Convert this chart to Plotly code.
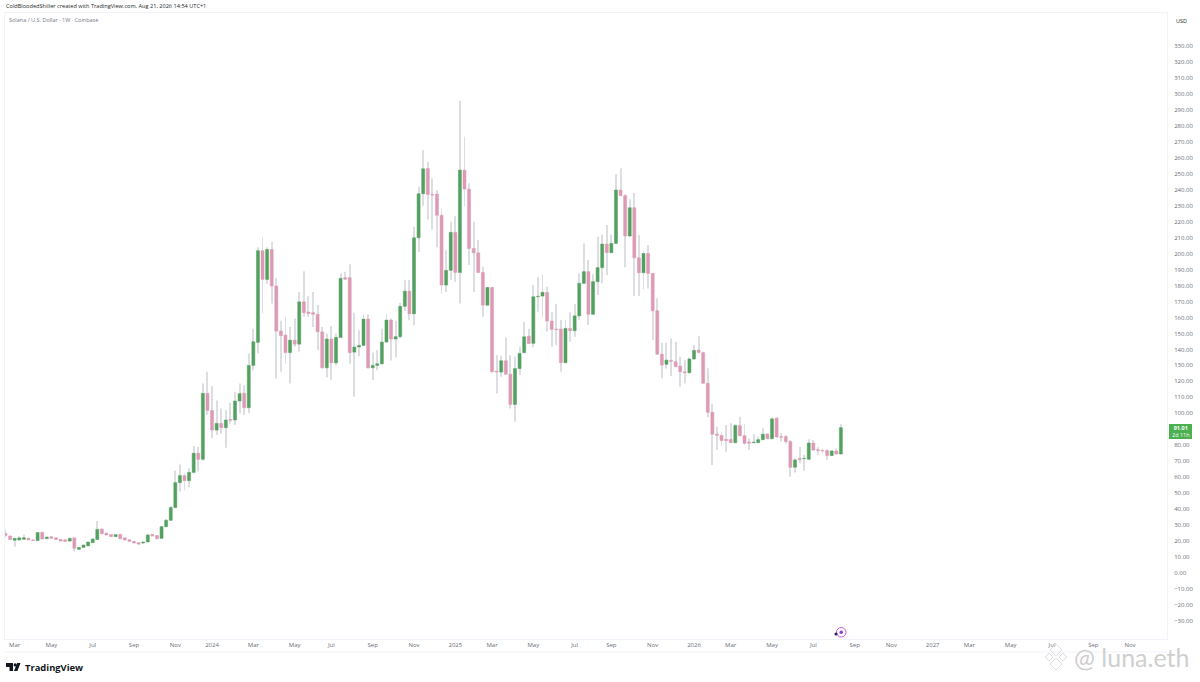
"""Solana weekly candles in the TradingView snapshot look."""
import plotly.graph_objects as go
import pandas as pd

first_week = "2023-02-13"
week_ms = 7 * 86400000

opens = [
    24.8, 23.2, 20.5, 20.7, 21.1, 21.7, 20.7, 20.3, 25.5, 21.5,
    22.7, 22.0, 21.0, 20.8, 20.0, 22.0, 14.8, 16.0, 17.0, 19.0,
    21.0, 27.5, 25.0, 24.0, 22.8, 24.2, 22.0, 20.8, 19.8, 19.0,
    18.8, 19.4, 24.2, 23.5, 21.7, 29.0, 33.0, 41.0, 56.6, 61.0,
    57.8, 63.0, 75.0, 71.2, 112.5, 101.8, 89.5, 93.7, 91.0, 96.2,
    95.8, 107.7, 112.5, 103.5, 130.0, 144.4, 201.8, 183.8, 202.6, 179.7,
    151.5, 149.0, 138.0, 145.8, 143.3, 169.8, 163.4, 163.0, 162.0, 151.0,
    128.5, 146.5, 131.6, 147.5, 184.9, 184.9, 138.3, 141.5, 142.5, 159.0,
    128.5, 130.0, 131.0, 144.6, 158.4, 146.5, 148.0, 167.0, 176.5, 162.3,
    209.9, 237.5, 253.3, 237.0, 237.3, 224.0, 180.3, 189.5, 213.3, 188.2,
    252.3, 240.4, 203.2, 200.5, 188.2, 167.7, 178.8, 126.4, 125.8, 132.9,
    124.5, 105.5, 128.0, 138.0, 148.3, 143.8, 173.0, 173.4, 175.7, 157.8,
    152.8, 152.8, 131.7, 153.2, 151.7, 161.0, 181.4, 188.7, 162.0, 182.4,
    191.2, 206.0, 200.6, 206.4, 239.8, 236.3, 211.0, 228.7, 197.4, 188.0,
    200.1, 187.6, 164.2, 137.0, 130.7, 133.1, 132.3, 129.6, 126.0, 125.4,
    134.0, 139.6, 138.0, 118.8, 100.6, 87.0, 86.2, 83.7, 83.7, 81.6,
    92.3, 86.0, 82.0, 81.6, 81.6, 83.5, 87.0, 84.1, 96.9, 85.4,
    85.4, 82.3, 66.2, 71.8, 71.6, 71.2, 81.4, 77.2, 76.8, 76.6,
    73.5, 76.4, 74.5,
]
closes = [
    23.4, 20.9, 21.7, 22.0, 22.1, 20.7, 20.3, 25.3, 21.3, 22.5,
    21.7, 21.0, 20.0, 19.8, 21.7, 15.5, 16.0, 17.5, 19.4, 21.3,
    27.3, 24.6, 23.8, 22.8, 24.0, 21.5, 20.7, 19.8, 18.8, 18.2,
    19.4, 23.8, 23.2, 21.5, 29.0, 33.0, 41.0, 56.6, 61.0, 57.8,
    63.0, 75.0, 71.2, 112.5, 101.8, 89.5, 93.7, 91.0, 95.8, 95.6,
    107.7, 112.3, 103.5, 130.0, 144.8, 201.8, 183.8, 202.6, 179.7, 151.5,
    148.6, 138.0, 145.8, 143.3, 169.8, 163.0, 162.5, 162.0, 151.0, 128.5,
    146.5, 131.6, 147.5, 184.5, 184.0, 138.0, 141.5, 142.5, 159.0, 128.5,
    130.0, 131.0, 144.6, 158.4, 146.5, 148.0, 167.0, 176.5, 162.3, 209.9,
    237.5, 253.1, 237.0, 236.6, 224.0, 180.3, 189.5, 213.3, 188.2, 252.3,
    240.4, 203.2, 200.5, 188.2, 167.7, 178.8, 126.0, 125.8, 132.9, 124.5,
    105.5, 128.0, 137.5, 147.9, 143.7, 173.0, 173.3, 175.8, 157.8, 152.5,
    152.4, 131.7, 153.2, 151.7, 161.0, 181.4, 188.7, 162.0, 182.4, 191.2,
    206.0, 200.6, 206.4, 239.8, 236.3, 211.0, 228.7, 197.4, 188.0, 200.1,
    187.6, 164.2, 137.0, 130.2, 133.3, 132.5, 129.2, 126.0, 125.4, 134.0,
    139.4, 138.0, 118.8, 100.6, 86.9, 86.2, 82.9, 82.9, 81.6, 92.3,
    86.0, 81.2, 81.2, 82.0, 83.5, 86.9, 84.1, 96.5, 85.2, 85.0,
    82.3, 66.2, 70.8, 71.0, 71.8, 81.4, 77.0, 76.6, 76.4, 73.5,
    76.4, 74.5, 91.01,
]
highs = [
    27.3, 23.4, 21.8, 23.0, 24.0, 22.0, 21.0, 25.6, 25.8, 22.7,
    23.0, 22.2, 21.2, 21.0, 22.0, 22.3, 16.3, 17.8, 19.8, 21.8,
    32.6, 27.8, 25.3, 24.3, 24.3, 24.5, 22.2, 21.0, 20.0, 19.2,
    19.6, 24.5, 24.6, 23.8, 29.5, 33.8, 42.0, 64.0, 68.0, 62.4,
    65.6, 79.5, 79.0, 118.7, 126.0, 117.0, 108.0, 103.0, 102.0, 106.6,
    113.5, 118.7, 117.6, 137.5, 153.0, 204.0, 210.0, 204.0, 207.4, 184.5,
    158.0, 160.5, 154.0, 159.4, 176.0, 189.0, 173.4, 176.0, 167.8, 154.0,
    150.0, 154.6, 150.0, 187.6, 188.6, 193.4, 163.0, 152.0, 162.0, 162.0,
    138.0, 139.6, 153.0, 162.0, 159.4, 158.0, 169.0, 183.4, 183.4, 216.8,
    241.9, 264.8, 257.5, 247.0, 239.8, 228.3, 202.2, 220.0, 223.5, 295.7,
    273.2, 244.0, 220.0, 208.5, 191.8, 179.2, 179.2, 136.4, 136.0, 147.5,
    136.4, 135.4, 141.7, 157.3, 153.0, 180.3, 185.5, 187.2, 179.3, 163.6,
    168.4, 158.4, 158.4, 163.2, 168.4, 187.6, 206.4, 196.0, 187.0, 210.6,
    212.0, 217.9, 212.0, 249.8, 253.4, 237.0, 234.0, 238.0, 211.6, 202.0,
    205.4, 188.0, 172.0, 144.2, 144.2, 146.9, 144.8, 135.4, 133.3, 135.0,
    142.7, 148.4, 138.6, 128.2, 105.9, 91.7, 88.5, 92.7, 93.7, 93.3,
    97.9, 93.1, 84.3, 87.0, 85.4, 90.6, 87.5, 97.5, 97.5, 87.5,
    86.4, 83.3, 71.8, 79.0, 74.0, 83.7, 83.3, 78.7, 78.0, 77.5,
    77.0, 78.0, 93.1,
]
lows = [
    22.3, 20.7, 16.5, 20.2, 20.7, 20.5, 20.2, 20.1, 21.0, 21.2,
    21.5, 20.8, 19.8, 19.6, 19.8, 13.4, 14.5, 15.8, 16.8, 18.8,
    20.8, 24.3, 23.5, 22.5, 22.5, 21.2, 20.4, 19.6, 18.6, 18.0,
    18.6, 19.2, 23.0, 21.2, 21.4, 28.7, 32.5, 40.5, 51.0, 51.6,
    53.7, 62.4, 63.5, 70.5, 99.0, 84.3, 86.4, 87.4, 78.4, 93.5,
    92.6, 100.0, 98.9, 100.0, 127.0, 137.5, 162.5, 181.0, 168.8, 121.8,
    126.0, 131.0, 118.7, 141.7, 138.5, 160.5, 160.5, 154.0, 139.6, 128.0,
    122.5, 121.0, 130.0, 147.0, 183.5, 131.0, 110.4, 135.8, 142.0, 128.0,
    120.8, 127.0, 130.5, 144.0, 133.0, 135.0, 147.0, 164.0, 158.3, 155.2,
    201.0, 230.0, 221.4, 215.0, 203.9, 175.0, 176.0, 183.4, 182.4, 168.8,
    229.3, 192.8, 176.0, 187.8, 160.4, 167.2, 125.6, 112.4, 122.9, 124.0,
    103.0, 94.7, 124.0, 137.5, 143.4, 141.3, 163.6, 160.5, 151.0, 141.7,
    142.7, 126.0, 131.2, 144.8, 148.0, 158.4, 181.0, 155.3, 161.6, 174.0,
    181.4, 186.6, 200.2, 206.0, 236.0, 191.4, 210.6, 173.4, 173.4, 177.6,
    178.2, 145.9, 136.6, 121.9, 128.0, 123.3, 128.8, 116.6, 118.7, 125.0,
    133.6, 137.6, 118.4, 97.5, 67.6, 77.0, 79.6, 76.0, 81.2, 81.2,
    85.6, 80.2, 77.0, 81.2, 81.2, 83.2, 83.8, 83.8, 84.8, 82.3,
    81.0, 60.3, 62.9, 68.7, 64.0, 70.9, 76.6, 73.9, 74.5, 70.8,
    73.2, 74.2, 74.2,
]

tick_dates = ["2023-02-27", "2023-04-24", "2023-06-26", "2023-08-28", "2023-10-30", "2023-12-25",
              "2024-02-26", "2024-04-29", "2024-06-24", "2024-08-26", "2024-10-28", "2024-12-30",
              "2025-02-24", "2025-04-28", "2025-06-30", "2025-08-25", "2025-10-27", "2025-12-29",
              "2026-02-23", "2026-04-27", "2026-06-29", "2026-08-31", "2026-10-26", "2026-12-28",
              "2027-02-22", "2027-04-26", "2027-06-28", "2027-08-30", "2027-10-25"]
tick_names = ["Mar", "May", "Jul", "Sep", "Nov", "2024",
              "Mar", "May", "Jul", "Sep", "Nov", "2025",
              "Mar", "May", "Jul", "Sep", "Nov", "2026",
              "Mar", "May", "Jul", "Sep", "Nov", "2027",
              "Mar", "May", "Jul", "Sep", "Nov"]
price_ticks = list(range(-30, 340, 10))

GREEN, PINK, WICK = "#53a061", "#dd9ab5", "#dddee2"
PALE = "#f0f3fa"
L, R, T, B = 5, 1167, 13, 639

dates = pd.date_range(first_week, periods=len(closes), freq="7D")
body_base = [min(o, c) for o, c in zip(opens, closes)]
body_size = [abs(c - o) for o, c in zip(opens, closes)]
body_col = [GREEN if c >= o else PINK for o, c in zip(opens, closes)]


def px(x):
    return (x - L) / (R - L)


def py(y):
    return (B - y) / (B - T)


def path(points):
    """Closed SVG path in paper coordinates from pixel points."""
    return "M" + " L".join(f"{px(a):.5f},{py(b):.5f}" for a, b in points) + " Z"


def label(x, y, text, size, color, anchor="left", **kw):
    fig.add_annotation(xref="paper", yref="paper", x=px(x), y=py(y), text=text, showarrow=False,
                       xanchor=anchor, yanchor="middle", font=dict(size=size, color=color),
                       borderpad=0, **kw)


fig = go.Figure()
# wicks and bodies as two bar layers so the grey wick stays behind the body
fig.add_trace(go.Bar(x=dates, y=[h - l for h, l in zip(highs, lows)], base=lows,
                     width=week_ms * 0.2, marker=dict(color=WICK, line=dict(width=0))))
fig.add_trace(go.Bar(x=dates, y=body_size, base=body_base,
                     width=week_ms * 0.66, marker=dict(color=body_col, line=dict(color=body_col, width=0.5))))

x_start = pd.Timestamp(first_week) - pd.Timedelta(hours=18)
x_end = x_start + pd.Timedelta(days=7 * (R - L) / 4.59)

fig.update_layout(
    width=1200, height=682, margin=dict(l=L, r=1200 - R, t=T, b=682 - B),
    paper_bgcolor="white", plot_bgcolor="white", showlegend=False, barmode="overlay",
    font=dict(family="Open Sans, sans-serif", size=6, color="#6a6d78"),
    xaxis=dict(type="date", range=[x_start, x_end], tickmode="array", tickvals=tick_dates, ticktext=tick_names,
               showgrid=False, zeroline=False, ticks="", showline=True, linecolor=PALE, mirror=True,
               tickfont=dict(size=6, color="#6a6d78")),
    yaxis=dict(side="right", range=[(B - 573) / -1.597, (573 - T) / 1.597], tickmode="array", tickvals=price_ticks,
               tickformat=".2f", showgrid=False, zeroline=False, ticks="", showline=True, linecolor=PALE, mirror=True,
               ticklabelstandoff=5, tickfont=dict(size=6, color="#6a6d78")),
)

# lower edge of the time scale
fig.add_shape(type="line", xref="paper", yref="paper", x0=px(L), x1=px(R), y0=py(652), y1=py(652),
              line=dict(color=PALE, width=1))

label(5, 6.5, "ColdBloodedShiller created with TradingView.com, Aug 21, 2026 14:54 UTC+1", 5.6, "#1c1f28")
label(8, 20.5, "Solana / U.S. Dollar · 1W · Coinbase", 5.5, "#787b86")
label(1181, 21, "USD", 5.5, "#1c1f28", anchor="center")

# last price tag
fig.add_shape(type="rect", xref="paper", yref="paper", x0=px(1169), x1=px(1192), y0=py(424), y1=py(439),
              fillcolor="#4caf50", line=dict(width=0))
label(1180.5, 431.5, "<b>91.01</b><br>2d 11h", 5.5, "white", anchor="center")

# TradingView logo
fig.add_shape(type="path", xref="paper", yref="paper", fillcolor="#131722", line=dict(width=0),
              path=path([(6, 663), (13, 663), (13, 671), (9.5, 671), (9.5, 667), (6, 667)]))
fig.add_shape(type="path", xref="paper", yref="paper", fillcolor="#131722", line=dict(width=0),
              path=path([(14, 671), (17.2, 663), (20.5, 663), (17.4, 671)]))
fig.add_shape(type="circle", xref="paper", yref="paper", fillcolor="#131722", line=dict(width=0),
              x0=px(13.6), x1=px(16.8), y0=py(663.2), y1=py(666.6))
label(23.5, 667, "<b>TradingView</b>", 9.4, "#131722")

# session marker under the last candle
fig.add_shape(type="circle", xref="paper", yref="paper", line=dict(color="#c458d6", width=1),
              x0=px(836.5), x1=px(846), y0=py(627.5), y1=py(637))
fig.add_shape(type="circle", xref="paper", yref="paper", fillcolor="#8a3fd1", line=dict(width=0),
              x0=px(839.5), x1=px(843), y0=py(630.5), y1=py(634))
fig.add_shape(type="circle", xref="paper", yref="paper", fillcolor="#2b1b5e", line=dict(width=0),
              x0=px(834.5), x1=px(837.5), y0=py(632.5), y1=py(635.5))

# watermark
for cx, cy, r in [(1056, 650, 6), (1049, 657, 4), (1063, 657, 4), (1056, 664, 6)]:
    fig.add_shape(type="path", xref="paper", yref="paper", line=dict(color="#dddddd", width=1),
                  path=path([(cx, cy - r), (cx + r, cy), (cx, cy + r), (cx - r, cy)]))
label(1073, 657, "@ luna.eth", 25, "#cfcfcf")
fig.layout.annotations[-1].font.family = "Lato"

fig.write_html("out.html", post_script="document.body.style.margin='0';", config={"displayModeBar": False})
